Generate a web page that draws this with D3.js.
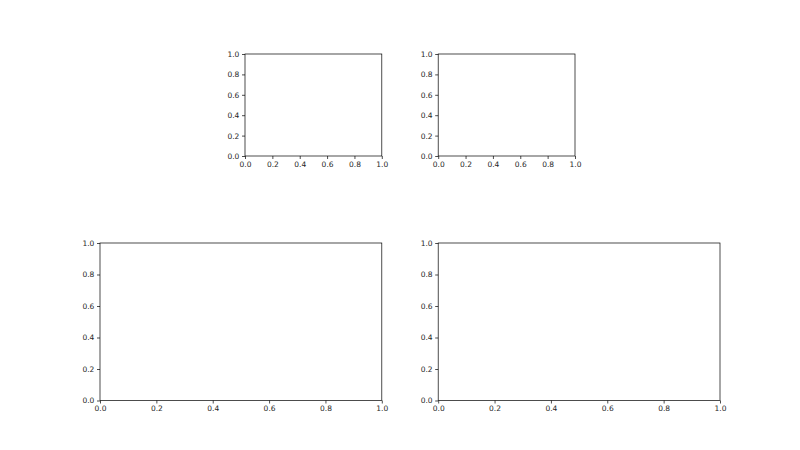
<!DOCTYPE html>
<html>
<head>
<meta charset="utf-8">
<script src="https://d3js.org/d3.v7.min.js"></script>
<style>
  body { margin: 0; background: #fff; }
  svg { display: block; }
  .tick text { font-family: "DejaVu Sans", sans-serif; font-size: 7.5px; fill: #262626; }
  .tick line { stroke: #000; stroke-width: 0.7; }
</style>
</head>
<body>
<svg id="chart" width="800" height="450"></svg>
<script>
// axis limits and ticks, same for every panel
const xDomain = [0, 1];
const yDomain = [0, 1];
const xTicks = [0, 0.2, 0.4, 0.6, 0.8, 1.0];
const yTicks = [0, 0.2, 0.4, 0.6, 0.8, 1.0];
const panelNames = ["topLeft", "topRight", "bottomLeft", "bottomRight"];

// layout boxes in pixels (x0, x1, y0, y1)
const layout = {
    topLeft:     [245, 381.8, 54, 156],
    topRight:    [438.2, 575, 54, 156],
    bottomLeft:  [100, 381.8, 243, 400.5],
    bottomRight: [438.2, 720, 243, 400.5]
};

const svg = d3.select("#chart");
const fmt = d3.format(".1f");

panelNames.forEach(name => {
    const [x0, x1, y0, y1] = layout[name];
    const x = d3.scaleLinear().domain(xDomain).range([x0, x1]);
    const y = d3.scaleLinear().domain(yDomain).range([y1, y0]);

    const g = svg.append("g").attr("class", "panel " + name);

    g.append("g")
        .attr("transform", `translate(0,${y1})`)
        .call(d3.axisBottom(x).tickValues(xTicks).tickFormat(fmt)
            .tickSize(3).tickSizeOuter(0).tickPadding(2.6))
        .call(a => a.select(".domain").remove());

    g.append("g")
        .attr("transform", `translate(${x0},0)`)
        .call(d3.axisLeft(y).tickValues(yTicks).tickFormat(fmt)
            .tickSize(3).tickSizeOuter(0).tickPadding(2.6))
        .call(a => a.select(".domain").remove());

    // frame (spines)
    g.append("rect")
        .attr("x", x(xDomain[0]))
        .attr("y", y(yDomain[1]))
        .attr("width", x(xDomain[1]) - x(xDomain[0]))
        .attr("height", y(yDomain[0]) - y(yDomain[1]))
        .attr("fill", "none")
        .attr("stroke", "#000")
        .attr("stroke-width", 0.7);
});
</script>
</body>
</html>
